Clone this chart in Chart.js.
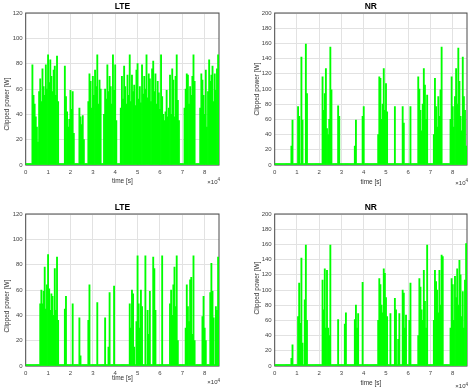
<!DOCTYPE html>
<html>
<head>
<meta charset="utf-8">
<script src="https://cdn.jsdelivr.net/npm/chart.js@4.4.1/dist/chart.umd.min.js"></script>
<style>
  body { margin: 0; background: #fff; }
  #wrap { position: relative; width: 474px; height: 391px; }
  canvas { position: absolute; }
</style>
</head>
<body>
<div id="wrap">
  <canvas id="lteTopChart" width="237" height="195" style="left:0;top:0"></canvas>
  <canvas id="nrTopChart" width="237" height="195" style="left:237px;top:0"></canvas>
  <canvas id="lteBottomChart" width="237" height="196" style="left:0;top:195px"></canvas>
  <canvas id="nrBottomChart" width="237" height="196" style="left:237px;top:195px"></canvas>
</div>
<script>
// time axis in units of 10^4 s, one sample every 500 s over a day
const timeMax = 8.64;
const sampleStep = 0.05;
const xTickValues = [0, 1, 2, 3, 4, 5, 6, 7, 8];
const lteTickValues = [0, 20, 40, 60, 80, 100, 120];
const nrTickValues = [0, 20, 40, 60, 80, 100, 120, 140, 160, 180, 200];

// clipped power [W]
const lteTop = [
  0, 0, 0, 0, 0, 0, 79, 55, 48, 38,
  30, 18, 58, 68, 50, 76, 62, 55, 79, 60,
  87, 65, 83, 70, 58, 75, 78, 55, 86, 50,
  0, 0, 0, 0, 0, 78, 54, 42, 30, 36,
  59, 44, 58, 25, 0, 0, 0, 0, 45, 38,
  32, 39, 20, 0, 0, 0, 50, 72, 66, 45,
  70, 55, 75, 62, 87, 48, 67, 60, 0, 0,
  40, 60, 52, 79, 58, 70, 62, 48, 87, 59,
  79, 35, 0, 0, 0, 45, 70, 52, 78, 62,
  48, 71, 55, 87, 50, 71, 58, 63, 47, 75,
  80, 52, 62, 49, 79, 56, 70, 60, 87, 53,
  72, 68, 50, 76, 82, 58, 72, 48, 66, 57,
  44, 87, 54, 40, 35, 42, 59, 38, 45, 71,
  40, 76, 67, 38, 70, 87, 51, 35, 0, 0,
  0, 0, 45, 60, 72, 71, 48, 62, 55, 70,
  87, 66, 0, 0, 0, 0, 45, 72, 67, 55,
  40, 75, 30, 58, 83, 66, 71, 78, 50, 72,
  59, 76, 87
];

const nrTop = [
  0, 0, 0, 0, 0, 0, 0, 0, 0, 0,
  0, 0, 0, 0, 0, 25, 59, 0, 0, 0,
  0, 77, 64, 0, 142, 59, 0, 0, 159, 94,
  0, 0, 0, 0, 0, 0, 0, 0, 0, 0,
  0, 0, 0, 116, 72, 94, 127, 48, 40, 60,
  155, 99, 0, 0, 0, 0, 0, 78, 64, 0,
  0, 0, 0, 0, 0, 0, 0, 0, 0, 0,
  0, 0, 25, 59, 0, 0, 0, 0, 0, 64,
  77, 0, 0, 0, 0, 0, 0, 0, 0, 0,
  0, 0, 0, 40, 116, 114, 60, 80, 127, 72,
  107, 70, 0, 0, 0, 0, 0, 0, 77, 0,
  0, 0, 0, 0, 0, 77, 55, 0, 0, 0,
  0, 0, 77, 0, 0, 0, 0, 0, 0, 116,
  100, 72, 45, 80, 127, 105, 60, 92, 0, 0,
  0, 0, 0, 40, 114, 77, 50, 90, 64, 99,
  155, 0, 0, 0, 0, 0, 0, 0, 60, 116,
  77, 50, 90, 127, 80, 154, 110, 64, 45, 142,
  90, 72, 25
];

const lteBottom = [
  0, 0, 0, 0, 0, 0, 0, 0, 0, 0,
  0, 0, 0, 49, 60, 49, 59, 78, 45, 64,
  88, 61, 44, 57, 55, 40, 77, 44, 86, 36,
  0, 0, 0, 0, 0, 45, 55, 0, 0, 0,
  0, 0, 49, 0, 0, 0, 0, 0, 38, 8,
  0, 0, 0, 0, 0, 0, 36, 64, 0, 0,
  0, 0, 0, 0, 50, 0, 0, 0, 0, 0,
  0, 38, 0, 0, 15, 58, 0, 0, 0, 63,
  0, 0, 0, 0, 0, 0, 0, 0, 0, 0,
  0, 0, 0, 49, 30, 60, 57, 15, 0, 35,
  87, 49, 30, 60, 47, 0, 0, 87, 0, 44,
  25, 59, 0, 0, 86, 77, 44, 0, 0, 0,
  0, 0, 87, 0, 0, 0, 0, 0, 0, 49,
  60, 40, 64, 78, 47, 87, 20, 0, 0, 0,
  0, 0, 0, 30, 64, 47, 35, 68, 70, 25,
  87, 20, 0, 0, 0, 0, 0, 0, 39, 55,
  30, 20, 0, 0, 0, 58, 81, 59, 38, 0,
  47, 44, 86
];

const nrBottom = [
  0, 0, 0, 0, 0, 0, 0, 0, 0, 0,
  0, 0, 0, 0, 0, 10, 28, 0, 0, 0,
  0, 65, 109, 56, 142, 30, 0, 87, 159, 60,
  0, 0, 0, 0, 0, 0, 0, 0, 0, 0,
  0, 0, 0, 113, 74, 128, 50, 126, 50, 40,
  159, 0, 0, 0, 0, 0, 0, 61, 0, 0,
  0, 0, 0, 55, 70, 0, 0, 0, 0, 0,
  0, 0, 61, 80, 50, 69, 0, 0, 0, 110,
  0, 0, 0, 0, 0, 0, 0, 0, 0, 0,
  0, 0, 0, 60, 115, 107, 80, 70, 128, 122,
  90, 65, 0, 0, 69, 0, 0, 0, 89, 74,
  0, 35, 69, 0, 0, 100, 96, 50, 67, 0,
  0, 60, 109, 0, 0, 0, 0, 0, 0, 40,
  115, 104, 74, 60, 126, 85, 50, 159, 0, 0,
  0, 0, 0, 60, 126, 111, 100, 70, 126, 80,
  146, 144, 0, 0, 0, 0, 0, 0, 50, 115,
  107, 60, 118, 90, 128, 80, 139, 120, 65, 98,
  50, 113, 161
];

const fontFamily = '"Liberation Sans", Arial, sans-serif';

// draws the box, the title and the axis labels like the matlab figure
const framePlugin = {
  id: 'frameText',
  beforeDatasetsDraw(chart, args, opts) {
    const a = chart.chartArea;
    const ctx = chart.ctx;
    ctx.save();
    ctx.strokeStyle = '#4a4a4a';
    ctx.lineWidth = 1;
    ctx.strokeRect(a.left, a.top, a.right - a.left, a.bottom - a.top);
    ctx.restore();
  },
  afterDraw(chart, args, opts) {
    const a = chart.chartArea;
    const ctx = chart.ctx;
    const cx = (a.left + a.right) / 2;
    ctx.save();
    ctx.textBaseline = 'middle';
    ctx.textAlign = 'center';
    ctx.fillStyle = '#000';
    ctx.font = 'bold 8.5px ' + fontFamily;
    ctx.fillText(opts.title, cx, opts.titleY);

    ctx.fillStyle = '#333';
    ctx.font = '6.5px ' + fontFamily;
    ctx.fillText('time [s]', cx, opts.xTitleY);

    ctx.save();
    ctx.translate(opts.yTitleX, opts.yTitleY);
    ctx.rotate(-Math.PI / 2);
    ctx.fillText('Clipped power [W]', 0, 0);
    ctx.restore();

    // x10^4 exponent under the right end of the axis
    ctx.textAlign = 'right';
    ctx.font = '4.5px ' + fontFamily;
    ctx.fillText('4', a.right + 1, opts.expY - 2);
    const w4 = ctx.measureText('4').width;
    ctx.font = '6px ' + fontFamily;
    ctx.fillText('\u00d710', a.right + 1 - w4, opts.expY);
    ctx.restore();
  }
};

function makeChart(id, values, yTicks, yMax, box, labels) {
  const canvas = document.getElementById(id);
  const W = canvas.width, H = canvas.height;
  const points = values.map((v, i) => ({ x: i * sampleStep, y: v }));
  const gridColor = '#e2e2e2';

  new Chart(canvas, {
    type: 'bar',
    data: {
      datasets: [{
        data: points,
        backgroundColor: '#00ff00',
        borderWidth: 0,
        barThickness: 1.2,
        minBarLength: 1.5
      }]
    },
    options: {
      responsive: false,
      animation: false,
      devicePixelRatio: 1,
      layout: {
        padding: { left: 0, top: box.top, right: W - box.right, bottom: H - box.bottom - 10 }
      },
      plugins: {
        legend: { display: false },
        tooltip: { enabled: false },
        frameText: labels
      },
      scales: {
        x: {
          type: 'linear',
          min: 0,
          max: timeMax,
          offset: false,
          grid: { color: gridColor, drawTicks: false, offset: false },
          border: { display: false },
          ticks: {
            font: { size: 6, family: fontFamily },
            color: '#444',
            padding: 3.5,
            maxRotation: 0,
            autoSkip: false,
            includeBounds: false
          },
          afterBuildTicks: s => { s.ticks = xTickValues.map(v => ({ value: v })); },
          afterFit: s => {
            s.height = 10;
            s.paddingLeft = 0; s.paddingRight = 0; s.paddingTop = 0; s.paddingBottom = 0;
          }
        },
        y: {
          min: 0,
          max: yMax,
          grid: { color: gridColor, drawTicks: false },
          border: { display: false },
          ticks: {
            font: { size: 6, family: fontFamily },
            color: '#444',
            padding: 3
          },
          afterBuildTicks: s => { s.ticks = yTicks.map(v => ({ value: v })); },
          afterFit: s => {
            s.width = box.left;
            s.paddingLeft = 0; s.paddingRight = 0; s.paddingTop = 0; s.paddingBottom = 0;
          }
        }
      }
    },
    plugins: [framePlugin]
  });
}

makeChart('lteTopChart', lteTop, lteTickValues, 120,
  { left: 25.7, right: 219, top: 13, bottom: 165 },
  { title: 'LTE', titleY: 6.5, xTitleY: 181.5, yTitleX: 7.5, yTitleY: 104, expY: 182 });

makeChart('nrTopChart', nrTop, nrTickValues, 200,
  { left: 37.7, right: 230, top: 13, bottom: 165 },
  { title: 'NR', titleY: 6.5, xTitleY: 182, yTitleX: 20, yTitleY: 89, expY: 183 });

makeChart('lteBottomChart', lteBottom, lteTickValues, 120,
  { left: 25.7, right: 219, top: 19, bottom: 171 },
  { title: 'LTE', titleY: 12.7, xTitleY: 183.5, yTitleX: 7.5, yTitleY: 111, expY: 187.5 });

makeChart('nrBottomChart', nrBottom, nrTickValues, 200,
  { left: 37.7, right: 230, top: 19, bottom: 171 },
  { title: 'NR', titleY: 12.7, xTitleY: 188, yTitleX: 20, yTitleY: 93, expY: 191.5 });
</script>
</body>
</html>
